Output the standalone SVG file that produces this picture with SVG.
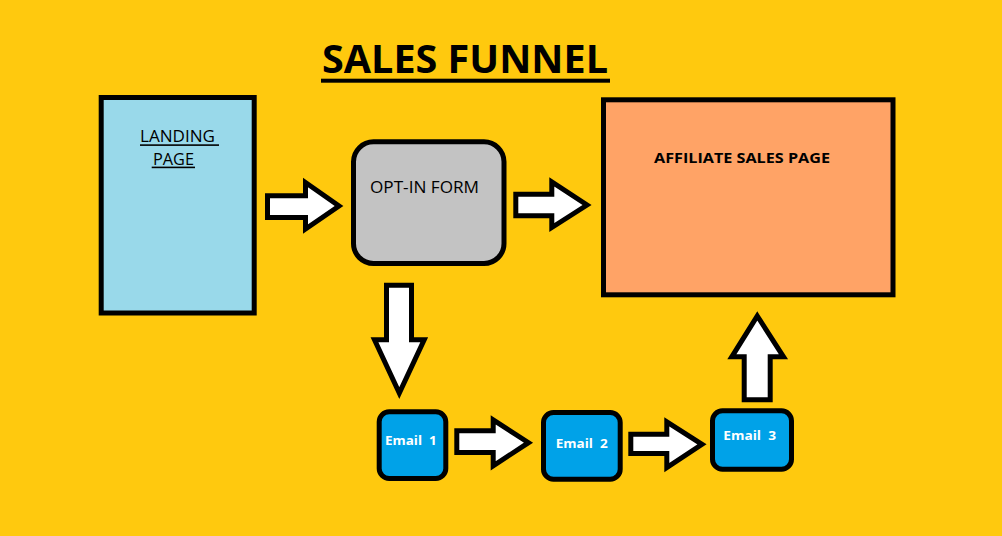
<svg xmlns="http://www.w3.org/2000/svg" width="1002" height="536" viewBox="0 0 1002 536">
<style>
.box{stroke:#000;stroke-width:5}
.arr{fill:#fff;stroke:#000;stroke-width:5;stroke-linejoin:miter}
.t{font-family:"Open Sans","Liberation Sans",Arial,sans-serif;fill:#000}
.b{font-weight:bold}
.w{fill:#fff;font-weight:bold;font-size:13px}
</style>
<rect x="0" y="0" width="1002" height="536" fill="#FFC90E"/>
<g id="title">
<text class="t b" x="322" y="72.5" font-size="39" textLength="286" lengthAdjust="spacingAndGlyphs">SALES FUNNEL</text>
<rect x="321" y="78.7" width="289" height="4" fill="#000"/>
</g>
<g id="landing">
<rect class="box" x="101.2" y="97.5" width="153" height="215.5" fill="#99D9EA"/>
<text class="t" x="140" y="141.7" font-size="16" textLength="75" lengthAdjust="spacingAndGlyphs">LANDING</text>
<rect x="140" y="144.3" width="79" height="1.6" fill="#000"/>
<text class="t" x="153" y="165" font-size="16" textLength="41" lengthAdjust="spacingAndGlyphs">PAGE</text>
<rect x="151.7" y="166.6" width="43.3" height="1.6" fill="#000"/>
</g>
<g id="optin">
<rect class="box" x="353.5" y="141.8" width="150.5" height="121.7" rx="20" fill="#C3C3C3"/>
<text class="t" x="370" y="193.3" font-size="16" textLength="109" lengthAdjust="spacingAndGlyphs">OPT-IN FORM</text>
</g>
<g id="affiliate">
<rect class="box" x="603.5" y="99.8" width="289.5" height="195" fill="#FFA366"/>
<text class="t b" x="654" y="163.3" font-size="15" textLength="176" lengthAdjust="spacingAndGlyphs">AFFILIATE SALES PAGE</text>
</g>
<g id="email1">
<rect class="box" x="379.2" y="411.8" width="66.6" height="66.7" rx="10" fill="#00A2E8"/>
<text class="t w" x="385" y="445" textLength="51.7" lengthAdjust="spacingAndGlyphs" xml:space="preserve">Email  1</text>
</g>
<g id="email2">
<rect class="box" x="543.5" y="412.5" width="76.7" height="66.7" rx="10" fill="#00A2E8"/>
<text class="t w" x="555.7" y="448.3" textLength="52" lengthAdjust="spacingAndGlyphs" xml:space="preserve">Email  2</text>
</g>
<g id="email3">
<rect class="box" x="712.5" y="410.8" width="79" height="58.4" rx="10" fill="#00A2E8"/>
<text class="t w" x="723.3" y="440" textLength="52.7" lengthAdjust="spacingAndGlyphs" xml:space="preserve">Email  3</text>
</g>
<g id="connectors">
<polygon class="arr" points="267.5,195.8 305.5,195.8 305.5,182.5 339,206 305.5,229 305.5,217.5 267.5,217.5"/>
<polygon class="arr" points="515.8,194.2 551.8,194.2 551.8,181.8 587,205 551.8,227.5 551.8,215.8 515.8,215.8"/>
<polygon class="arr" points="386.5,285.2 411.5,285.2 411.5,339.8 424.2,339.8 399.3,393 374.5,339.8 386.5,339.8"/>
<polygon class="arr" points="456.8,430.8 493.2,430.8 493.2,419.8 528.5,442.7 493.2,465.8 493.2,452.5 456.8,452.5"/>
<polygon class="arr" points="630.8,434.2 666.8,434.2 666.8,421.8 702,444.3 666.8,467.5 666.8,453.5 630.8,453.5"/>
<polygon class="arr" points="757.3,316 783.5,356.8 770.2,356.8 770.2,399.8 744.2,399.8 744.2,356.8 731.8,356.8"/>
</g>
</svg>
